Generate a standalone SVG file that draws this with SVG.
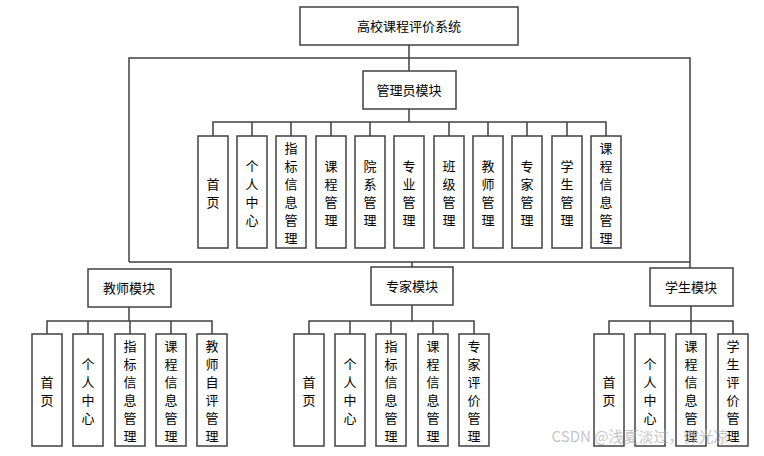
<svg xmlns="http://www.w3.org/2000/svg" width="764" height="456" viewBox="0 0 764 456">
<style>
rect{fill:#fff;stroke:#404040;stroke-width:1.5}
text{font-family:"Noto Sans CJK SC",sans-serif;font-size:13px;fill:#000;text-anchor:middle}
.c line,.c path{stroke:#404040;stroke-width:1.5;fill:none}
</style>
<rect x="0" y="0" width="764" height="456" style="fill:#fff;stroke:none"/>
<g class="c" id="connectors">
<path d="M409 45V71M129 262V58H690V269M409 109V122M213 136V122H606V136"/>
<path d="M252 122v14M291 122v14M331 122v14M370 122v14M449 122v14M488 122v14M527 122v14M567 122v14"/>
<path d="M129 262H690M412 262v5"/>
<path d="M129 307V321M47 334V321H212V334M88 321v13M130 321v13M171 321v13"/>
<path d="M412 305V321M309 334V321H474V334M350 321v13M391 321v13M433 321v13"/>
<path d="M691 306V321M609 334V321H733V334M650 321v13M691 321v13"/>
</g>
<g id="root"><rect x="300" y="7" width="218" height="38"/><text x="409" y="31">高校课程评价系统</text></g>
<g id="admin"><rect x="363" y="71" width="93" height="38"/><text x="409" y="95">管理员模块</text></g>
<g id="teacher"><rect x="88" y="269" width="83" height="38"/><text x="129" y="293">教师模块</text></g>
<g id="expert"><rect x="371" y="267" width="82" height="38"/><text x="412" y="291">专家模块</text></g>
<g id="student"><rect x="650" y="268" width="83" height="38"/><text x="691" y="292">学生模块</text></g>
<g id="a1"><rect x="198" y="136" width="30" height="112"/><text x="213"><tspan x="213" y="189">首</tspan><tspan x="213" y="207">页</tspan></text></g>
<g id="a2"><rect x="237" y="136" width="30" height="112"/><text><tspan x="252" y="171">个</tspan><tspan x="252" y="189">人</tspan><tspan x="252" y="207">中</tspan><tspan x="252" y="225">心</tspan></text></g>
<g id="a3"><rect x="276" y="136" width="30" height="112"/><text><tspan x="291" y="153">指</tspan><tspan x="291" y="171">标</tspan><tspan x="291" y="189">信</tspan><tspan x="291" y="207">息</tspan><tspan x="291" y="225">管</tspan><tspan x="291" y="243">理</tspan></text></g>
<g id="a4"><rect x="316" y="136" width="30" height="112"/><text><tspan x="331" y="171">课</tspan><tspan x="331" y="189">程</tspan><tspan x="331" y="207">管</tspan><tspan x="331" y="225">理</tspan></text></g>
<g id="a5"><rect x="355" y="136" width="30" height="112"/><text><tspan x="370" y="171">院</tspan><tspan x="370" y="189">系</tspan><tspan x="370" y="207">管</tspan><tspan x="370" y="225">理</tspan></text></g>
<g id="a6"><rect x="394" y="136" width="30" height="112"/><text><tspan x="409" y="171">专</tspan><tspan x="409" y="189">业</tspan><tspan x="409" y="207">管</tspan><tspan x="409" y="225">理</tspan></text></g>
<g id="a7"><rect x="434" y="136" width="30" height="112"/><text><tspan x="449" y="171">班</tspan><tspan x="449" y="189">级</tspan><tspan x="449" y="207">管</tspan><tspan x="449" y="225">理</tspan></text></g>
<g id="a8"><rect x="473" y="136" width="30" height="112"/><text><tspan x="488" y="171">教</tspan><tspan x="488" y="189">师</tspan><tspan x="488" y="207">管</tspan><tspan x="488" y="225">理</tspan></text></g>
<g id="a9"><rect x="512" y="136" width="30" height="112"/><text><tspan x="527" y="171">专</tspan><tspan x="527" y="189">家</tspan><tspan x="527" y="207">管</tspan><tspan x="527" y="225">理</tspan></text></g>
<g id="a10"><rect x="552" y="136" width="30" height="112"/><text><tspan x="567" y="171">学</tspan><tspan x="567" y="189">生</tspan><tspan x="567" y="207">管</tspan><tspan x="567" y="225">理</tspan></text></g>
<g id="a11"><rect x="591" y="136" width="30" height="112"/><text><tspan x="606" y="153">课</tspan><tspan x="606" y="171">程</tspan><tspan x="606" y="189">信</tspan><tspan x="606" y="207">息</tspan><tspan x="606" y="225">管</tspan><tspan x="606" y="243">理</tspan></text></g>
<g id="t1"><rect x="32" y="334" width="30" height="112"/><text><tspan x="47" y="387">首</tspan><tspan x="47" y="405">页</tspan></text></g>
<g id="t2"><rect x="73" y="334" width="30" height="112"/><text><tspan x="88" y="369">个</tspan><tspan x="88" y="387">人</tspan><tspan x="88" y="405">中</tspan><tspan x="88" y="423">心</tspan></text></g>
<g id="t3"><rect x="115" y="334" width="30" height="112"/><text><tspan x="130" y="351">指</tspan><tspan x="130" y="369">标</tspan><tspan x="130" y="387">信</tspan><tspan x="130" y="405">息</tspan><tspan x="130" y="423">管</tspan><tspan x="130" y="441">理</tspan></text></g>
<g id="t4"><rect x="156" y="334" width="30" height="112"/><text><tspan x="171" y="351">课</tspan><tspan x="171" y="369">程</tspan><tspan x="171" y="387">信</tspan><tspan x="171" y="405">息</tspan><tspan x="171" y="423">管</tspan><tspan x="171" y="441">理</tspan></text></g>
<g id="t5"><rect x="197" y="334" width="30" height="112"/><text><tspan x="212" y="351">教</tspan><tspan x="212" y="369">师</tspan><tspan x="212" y="387">自</tspan><tspan x="212" y="405">评</tspan><tspan x="212" y="423">管</tspan><tspan x="212" y="441">理</tspan></text></g>
<g id="e1"><rect x="294" y="334" width="30" height="112"/><text><tspan x="309" y="387">首</tspan><tspan x="309" y="405">页</tspan></text></g>
<g id="e2"><rect x="335" y="334" width="30" height="112"/><text><tspan x="350" y="369">个</tspan><tspan x="350" y="387">人</tspan><tspan x="350" y="405">中</tspan><tspan x="350" y="423">心</tspan></text></g>
<g id="e3"><rect x="376" y="334" width="30" height="112"/><text><tspan x="391" y="351">指</tspan><tspan x="391" y="369">标</tspan><tspan x="391" y="387">信</tspan><tspan x="391" y="405">息</tspan><tspan x="391" y="423">管</tspan><tspan x="391" y="441">理</tspan></text></g>
<g id="e4"><rect x="418" y="334" width="30" height="112"/><text><tspan x="433" y="351">课</tspan><tspan x="433" y="369">程</tspan><tspan x="433" y="387">信</tspan><tspan x="433" y="405">息</tspan><tspan x="433" y="423">管</tspan><tspan x="433" y="441">理</tspan></text></g>
<g id="e5"><rect x="459" y="334" width="30" height="112"/><text><tspan x="474" y="351">专</tspan><tspan x="474" y="369">家</tspan><tspan x="474" y="387">评</tspan><tspan x="474" y="405">价</tspan><tspan x="474" y="423">管</tspan><tspan x="474" y="441">理</tspan></text></g>
<g id="s1"><rect x="594" y="334" width="30" height="112"/><text><tspan x="609" y="387">首</tspan><tspan x="609" y="405">页</tspan></text></g>
<g id="s2"><rect x="635" y="334" width="30" height="112"/><text><tspan x="650" y="369">个</tspan><tspan x="650" y="387">人</tspan><tspan x="650" y="405">中</tspan><tspan x="650" y="423">心</tspan></text></g>
<g id="s3"><rect x="676" y="334" width="30" height="112"/><text><tspan x="691" y="351">课</tspan><tspan x="691" y="369">程</tspan><tspan x="691" y="387">信</tspan><tspan x="691" y="405">息</tspan><tspan x="691" y="423">管</tspan><tspan x="691" y="441">理</tspan></text></g>
<g id="s4"><rect x="718" y="334" width="30" height="112"/><text><tspan x="733" y="351">学</tspan><tspan x="733" y="369">生</tspan><tspan x="733" y="387">评</tspan><tspan x="733" y="405">价</tspan><tspan x="733" y="423">管</tspan><tspan x="733" y="441">理</tspan></text></g>
<text x="640" y="442" style="font-size:15px;fill:#b4b4b4;fill-opacity:0.8">CSDN @浅夏淡过，微光凉</text>
</svg>
